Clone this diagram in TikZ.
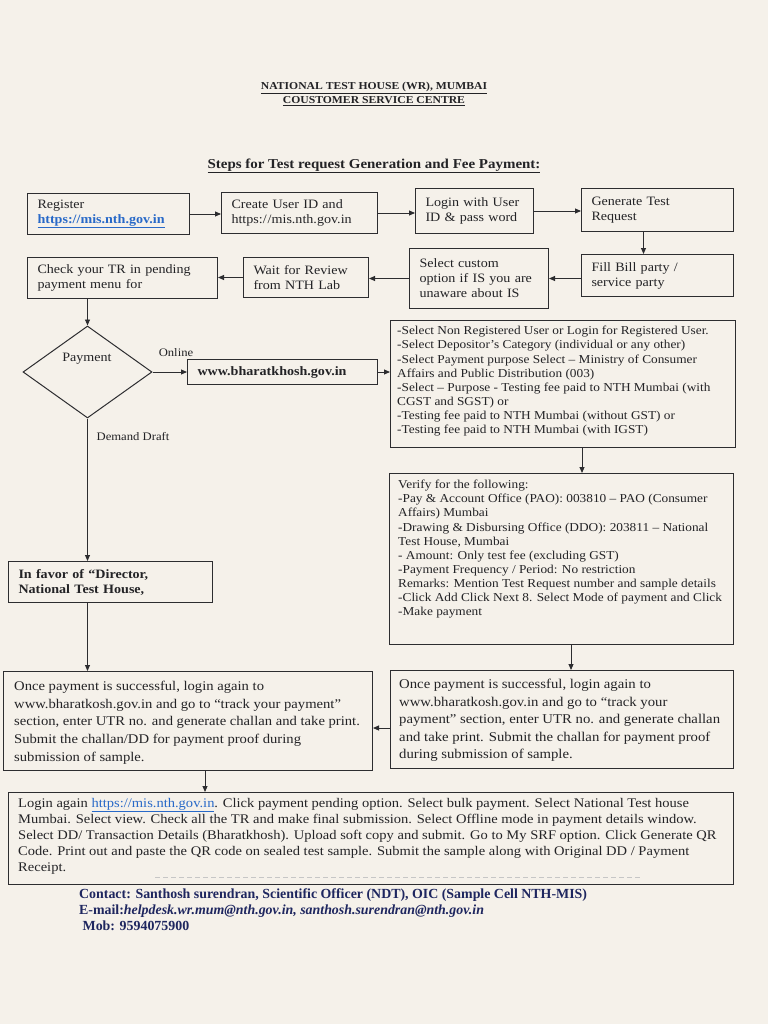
\documentclass[tikz,border=0pt]{standalone}
\usepackage{fontspec}
\setmainfont{Liberation Serif}[FakeStretch=1.1]
\newfontfamily\contactfont{Liberation Serif}
\usetikzlibrary{arrows.meta,shapes.geometric,calc}
\definecolor{paper}{RGB}{245,241,234}
\definecolor{ink}{RGB}{35,35,38}
\definecolor{linec}{RGB}{45,45,48}
\definecolor{linkc}{RGB}{40,105,200}
\definecolor{navy}{RGB}{30,38,95}
\begin{document}
\begin{tikzpicture}[x=1pt,y=-1pt,
  box/.style={draw=linec, line width=1pt, inner sep=0pt, anchor=north west, align=left, text=ink},
  sbox/.style={box, inner xsep=10pt, font=\fontsize{12.8}{15}\selectfont},
  txt/.style={inner sep=0pt, anchor=north west, align=left, text=ink},
  arr/.style={draw=linec, line width=0.9pt, -{Triangle[length=6pt,width=5pt]}}]
\useasboundingbox[fill=paper] (0,0) rectangle (768,1024);

% titles
\node[text=ink, font=\fontsize{10.6}{13.5}\selectfont\bfseries, align=center] (title) at (374,94)
  {\underline{NATIONAL TEST HOUSE (WR), MUMBAI}\\\underline{COUSTOMER SERVICE CENTRE}};
\node[text=ink, font=\fontsize{13.6}{16}\selectfont\bfseries] (steps) at (374,166)
  {\underline{Steps for Test request Generation and Fee Payment:}};

% top row
\node[sbox, text width=142pt, minimum height=41pt] (reg) at (27,193)
  {Register\\\textcolor{linkc}{\textbf{\underline{https://mis.nth.gov.in}}}};
\node[sbox, text width=136pt, minimum height=41pt] (create) at (221,192)
  {Create User ID and\\https:/\kern1pt/mis.nth.gov.in};
\node[sbox, text width=98pt, minimum height=45pt] (login) at (415,188)
  {Login with User\\ID \& pass word};
\node[sbox, text width=132pt, minimum height=43pt] (gen) at (581,188)
  {Generate Test\\Request};
% second row
\node[sbox, text width=132pt, minimum height=42pt] (fill) at (581,254)
  {Fill Bill party /\\service party};
\node[sbox, text width=119pt, minimum height=60pt] (custom) at (409,248)
  {Select custom\\option if IS you are\\unaware about IS};
\node[sbox, text width=105pt, minimum height=40pt] (wait) at (243,257)
  {Wait for Review\\from NTH Lab};
\node[sbox, text width=170pt, minimum height=41pt] (check) at (27,257)
  {Check your TR in pending\\payment menu for};

% decision
\node[diamond, draw=linec, line width=1pt, minimum width=129pt, minimum height=92pt, inner sep=0pt] (pay) at (87.5,372) {};
\node[text=ink, font=\fontsize{12.8}{15}\selectfont] (payt) at (87,359) {Payment};
\node[text=ink, font=\fontsize{11.5}{14}\selectfont] (online) at (176,353) {Online};
\node[text=ink, font=\fontsize{11.5}{14}\selectfont] (dd) at (133,437) {Demand Draft};

\node[box, inner xsep=10pt, text width=170pt, minimum height=25pt, font=\fontsize{12.8}{15}\selectfont\bfseries] (bharat) at (187,359)
  {www.bharatkhosh.gov.in};

% right big box 1
\node[box, minimum width=345pt, minimum height=127pt] (box1) at (390,320) {};
\node[txt, font=\fontsize{12.1}{14.15}\selectfont] (box1t) at (397,326)
  {-Select Non Registered User or Login for Registered User.\\
   -Select Depositor's Category (individual or any other)\\
   -Select Payment purpose Select -- Ministry of Consumer\\
   Affairs and Public Distribution (003)\\
   -Select -- Purpose - Testing fee paid to NTH Mumbai (with\\
   CGST and SGST) or\\
   -Testing fee paid to NTH Mumbai (without GST) or\\
   -Testing fee paid to NTH Mumbai (with IGST)};

% verify box
\node[box, minimum width=344pt, minimum height=171pt] (verify) at (389,473) {};
\node[txt, font=\fontsize{12.1}{14.1}\selectfont] (verifyt) at (398,480)
  {Verify for the following:\\
   -Pay \& Account Office (PAO): 003810 -- PAO (Consumer\\
   Affairs) Mumbai\\
   -Drawing \& Disbursing Office (DDO): 203811 -- National\\
   Test House, Mumbai\\
   - Amount: Only test fee (excluding GST)\\
   -Payment Frequency / Period: No restriction\\
   Remarks: Mention Test Request number and sample details\\
   -Click Add Click Next 8. Select Mode of payment and Click\\
   -Make payment};

% demand draft box
\node[sbox, text width=184pt, minimum height=41pt, font=\fontsize{12.8}{15}\selectfont\bfseries] (favor) at (8,561)
  {In favor of “Director,\\National Test House,};

% bottom boxes
\node[box, minimum width=369pt, minimum height=99pt] (bl) at (3,671) {};
\node[txt, font=\fontsize{13.3}{17.7}\selectfont] (blt) at (14,681)
  {Once payment is successful, login again to\\
   www.bharatkosh.gov.in and go to “track your payment”\\
   section, enter UTR no. and generate challan and take print.\\
   Submit the challan/DD for payment proof during\\
   submission of sample.};
\node[box, minimum width=343pt, minimum height=98pt] (br) at (390,670) {};
\node[txt, font=\fontsize{13.4}{17.5}\selectfont] (brt) at (399,679)
  {Once payment is successful, login again to\\
   www.bharatkosh.gov.in and go to “track your\\
   payment” section, enter UTR no. and generate challan\\
   and take print. Submit the challan for payment proof\\
   during submission of sample.};

% final box
\node[box, minimum width=725pt, minimum height=92pt] (final) at (8,792) {};
\node[txt, font=\fontsize{13.2}{16}\selectfont] (finalt) at (18,798)
  {Login again \textcolor{linkc}{\underline{https://mis.nth.gov.in}}. Click payment pending option. Select bulk payment. Select National Test house\\
   Mumbai. Select view. Check all the TR and make final submission. Select Offline mode in payment details window.\\
   Select DD/ Transaction Details (Bharatkhosh). Upload soft copy and submit. Go to My SRF option. Click Generate QR\\
   Code. Print out and paste the QR code on sealed test sample. Submit the sample along with Original DD / Payment\\
   Receipt.};
\draw[gray!45, line width=1pt, dash pattern=on 5pt off 3pt] (155,877) -- (640,877);

% contact
\node[txt, text=navy, font=\contactfont\fontsize{13.9}{16}\selectfont\bfseries] (contact) at (79,889)
  {Contact: Santhosh surendran, Scientific Officer (NDT), OIC (Sample Cell NTH-MIS)\\
   E-mail:\textit{helpdesk.wr.mum@nth.gov.in, santhosh.surendran@nth.gov.in}\\
   \ Mob: 9594075900};

% connectors
\draw[arr] (reg.east) -- (create.west |- reg.east);
\draw[arr] (create.east) -- (login.west |- create.east);
\draw[arr] (login.east) -- (gen.west |- login.east);
\draw[arr] ([xshift=-14pt]gen.south) -- ([xshift=-14pt]fill.north);
\draw[arr] (fill.west |- custom.east) -- (custom.east);
\draw[arr] (custom.west) -- (wait.east |- custom.west);
\draw[arr] (wait.west) -- (check.east |- wait.west);
\draw[arr] (pay.north |- check.south) -- (pay.north);
\draw[arr] (pay.east) -- (bharat.west |- pay.east);
\draw[arr] (bharat.east) -- (box1.west |- bharat.east);
\coordinate (c1) at (582,447);
\draw[arr] (c1) -- (c1 |- verify.north);
\draw[arr] (pay.south) -- (pay.south |- favor.north);
\draw[arr] (favor.south -| pay.south) -- (bl.north -| pay.south);
\coordinate (c2) at (571,644);
\draw[arr] (c2) -- (c2 |- br.north);
\coordinate (c3) at (390,728);
\draw[arr] (c3) -- (c3 -| bl.east);
\coordinate (c4) at (205,770);
\draw[arr] (c4) -- (c4 |- final.north);
\end{tikzpicture}
\end{document}
